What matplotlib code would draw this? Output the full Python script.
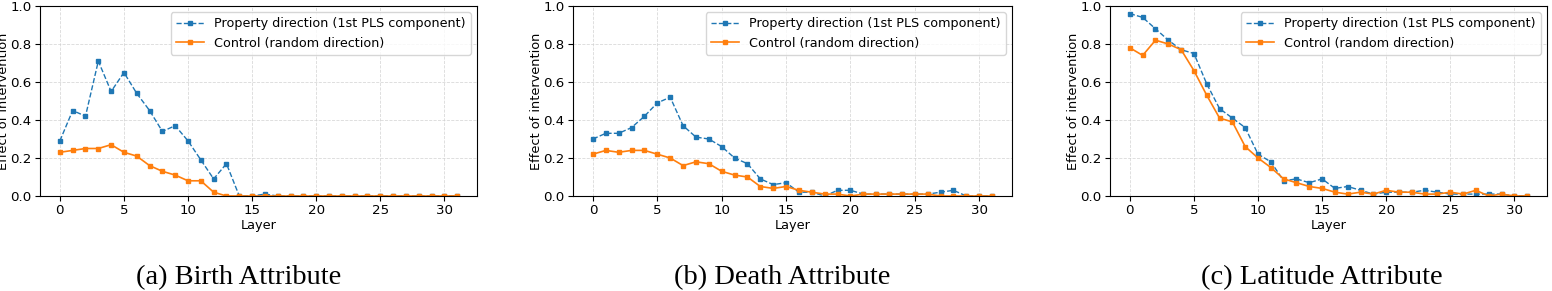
import matplotlib
matplotlib.use("Agg")
import matplotlib.pyplot as plt
import numpy as np

layers = list(range(32))

birth_property = [0.29, 0.45, 0.42, 0.71, 0.55, 0.65, 0.54, 0.45, 0.34, 0.37, 0.29, 0.19,
                  0.09, 0.17, 0.0, 0.0, 0.01, 0.0, 0.0, 0.0, 0.0, 0.0, 0.0, 0.0,
                  0.0, 0.0, 0.0, 0.0, 0.0, 0.0, 0.0, 0.0]
birth_control = [0.23, 0.24, 0.25, 0.25, 0.27, 0.23, 0.21, 0.16, 0.13, 0.11, 0.08, 0.08,
                 0.02, 0.0, 0.0, 0.0, 0.0, 0.0, 0.0, 0.0, 0.0, 0.0, 0.0, 0.0,
                 0.0, 0.0, 0.0, 0.0, 0.0, 0.0, 0.0, 0.0]

death_property = [0.30, 0.33, 0.33, 0.36, 0.42, 0.49, 0.52, 0.37, 0.31, 0.30, 0.26, 0.20,
                  0.17, 0.09, 0.06, 0.07, 0.02, 0.02, 0.0, 0.03, 0.03, 0.01, 0.01, 0.01,
                  0.01, 0.01, 0.01, 0.02, 0.03, 0.0, 0.0, 0.0]
death_control = [0.22, 0.24, 0.23, 0.24, 0.24, 0.22, 0.20, 0.16, 0.18, 0.17, 0.13, 0.11,
                 0.10, 0.05, 0.04, 0.05, 0.03, 0.02, 0.01, 0.01, 0.0, 0.01, 0.01, 0.01,
                 0.01, 0.01, 0.01, 0.0, 0.0, 0.0, 0.0, 0.0]

latitude_property = [0.96, 0.94, 0.88, 0.82, 0.77, 0.75, 0.59, 0.46, 0.41, 0.36, 0.22, 0.18,
                     0.08, 0.09, 0.07, 0.09, 0.04, 0.05, 0.03, 0.01, 0.02, 0.02, 0.02, 0.03,
                     0.02, 0.01, 0.01, 0.01, 0.01, 0.01, 0.0, 0.0]
latitude_control = [0.78, 0.74, 0.82, 0.80, 0.77, 0.66, 0.53, 0.41, 0.39, 0.26, 0.20, 0.15,
                    0.09, 0.07, 0.05, 0.04, 0.02, 0.01, 0.02, 0.01, 0.03, 0.02, 0.02, 0.01,
                    0.01, 0.02, 0.01, 0.03, 0.0, 0.01, 0.0, 0.0]

captions = ["(a) Birth Attribute", "(b) Death Attribute", "(c) Latitude Attribute"]
series = [(birth_property, birth_control),
          (death_property, death_control),
          (latitude_property, latitude_control)]

W, H = 1552, 291
fig = plt.figure(figsize=(W / 100, H / 100), dpi=100)

lefts = [40, 573, 1110]
rights = [477, 1012, 1547]
top_px, bot_px = 6, 196
caption_x = [239, 782, 1322]

for i, (prop, ctrl) in enumerate(series):
    ax = fig.add_axes([lefts[i] / W, 1 - bot_px / H, (rights[i] - lefts[i]) / W, (bot_px - top_px) / H])
    ax.plot(layers, prop, linestyle="--", marker="s", markersize=3.5, linewidth=1.0,
            color="#1f77b4", label="Property direction (1st PLS component)")
    ax.plot(layers, ctrl, linestyle="-", marker="s", markersize=3.5, linewidth=1.2,
            color="#ff7f0e", label="Control (random direction)")
    ax.set_ylim(0, 1.0)
    ax.set_xticks([0, 5, 10, 15, 20, 25, 30])
    ax.set_yticks([0.0, 0.2, 0.4, 0.6, 0.8, 1.0])
    ax.tick_params(labelsize=9.6, length=3.5, pad=2.5)
    ax.grid(True, linestyle="--", color="#d0d0d0", linewidth=0.6, alpha=0.8)
    ax.set_xlabel("Layer", fontsize=9.3, labelpad=1)
    ax.set_ylabel("Effect of intervention", fontsize=9.3, labelpad=0)
    ax.legend(loc="upper right", fontsize=9.2, handlelength=2.2, framealpha=0.8)
    fig.text(caption_x[i] / W, 1 - 284 / H, captions[i], ha="center", va="baseline",
             fontsize=20.5, family="Liberation Serif")

fig.savefig("out.png", dpi=100)
